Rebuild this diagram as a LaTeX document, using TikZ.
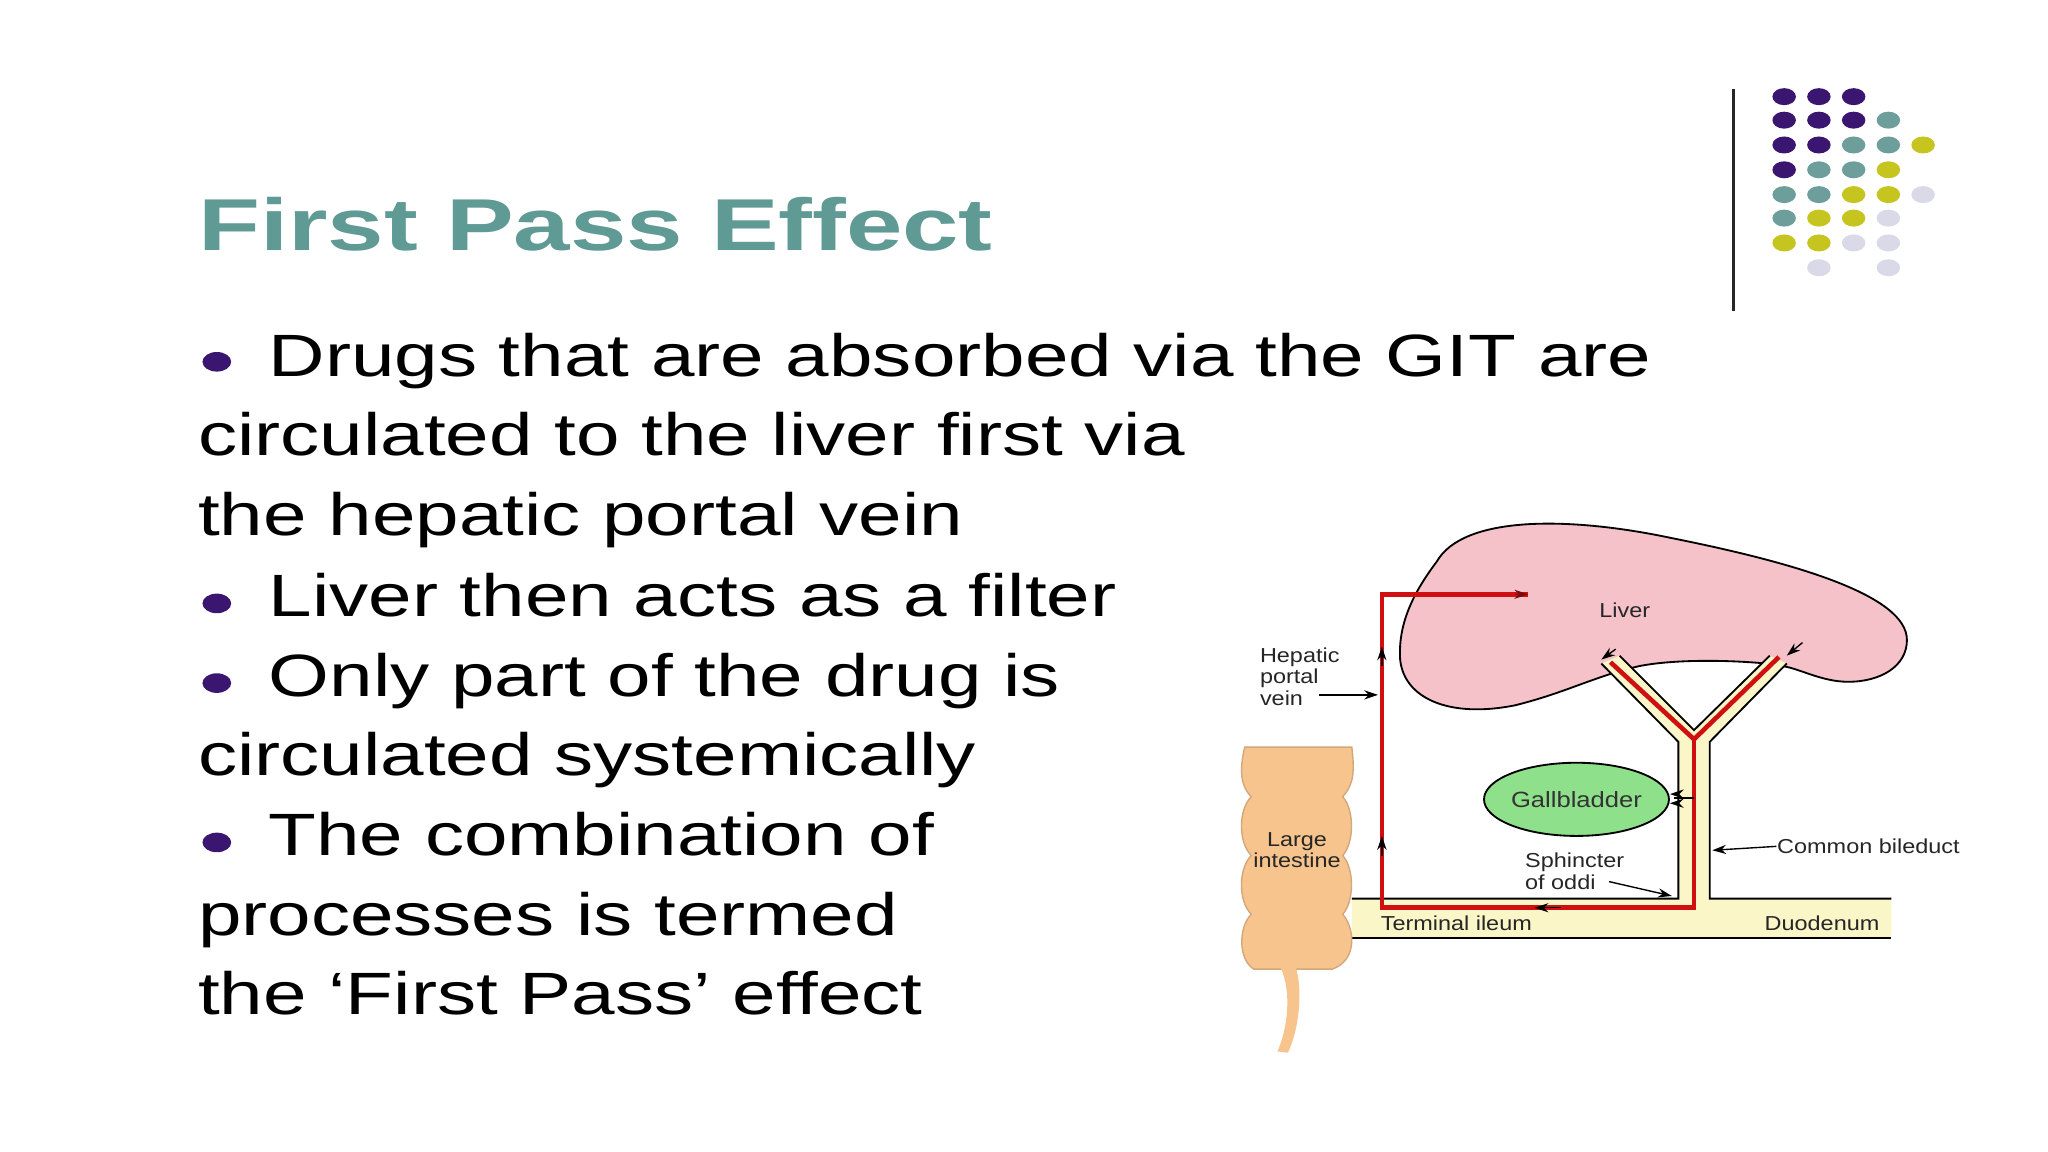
\documentclass[tikz,border=0pt]{standalone}
\usepackage{fontspec}
\setmainfont{Liberation Sans}
\newfontfamily\bodyfont[FakeStretch=1.31]{Liberation Sans}
\newfontfamily\titlefont[FakeStretch=1.38]{Liberation Sans}
\newfontfamily\lblfont[FakeStretch=1.16]{Liberation Sans}
\usetikzlibrary{arrows.meta,shapes.geometric}
\definecolor{pur}{HTML}{3A1670}
\definecolor{teal}{HTML}{6E9E9C}
\definecolor{yel}{HTML}{C6C41E}
\definecolor{lil}{HTML}{D9D9E8}
\definecolor{titc}{HTML}{5F9A94}
\definecolor{liv}{HTML}{F4C2C8}
\definecolor{duct}{HTML}{FAF6C8}
\definecolor{org}{HTML}{F7C48E}
\definecolor{gb}{HTML}{8FE08A}
\definecolor{vein}{HTML}{D01010}
\tikzset{
 body/.style={anchor=base west,font=\bodyfont\fontsize{13}{15}\selectfont,inner sep=0},
 lbl/.style={font=\lblfont\fontsize{4.4}{4.7}\selectfont,inner sep=0,text=black!85},
 ptr/.style={-{Stealth[length=3pt,width=2pt]},line width=0.3pt},
 dotP/.style={fill=pur},dotT/.style={fill=teal},dotY/.style={fill=yel},dotL/.style={fill=lil}
}
\begin{document}
\begin{tikzpicture}[x=0.01cm,y=-0.01cm]
\useasboundingbox[fill=white] (0,0) rectangle (1568,882);
% title
\node[anchor=base west,inner sep=0,text=titc,font=\titlefont\bfseries\fontsize{16}{20}\selectfont] (title) at (151,192) {First Pass Effect};
% decorative line and dots
\draw[line width=0.6pt,black!85] (1327,68) -- (1327,238);
\foreach \row/\y/\list in {1/74/{1/P,2/P,3/P},2/92/{1/P,2/P,3/P,4/T},3/111/{1/P,2/P,3/T,4/T,5/Y},4/130/{1/P,2/T,3/T,4/Y},5/149/{1/T,2/T,3/Y,4/Y,5/L},6/167/{1/T,2/Y,3/Y,4/L},7/186/{1/Y,2/Y,3/L,4/L},8/205/{2/L,4/L}}{
 \foreach \c/\k in \list {
  \fill[dot\k] ({1366+(\c-1)*26.6},\y) ellipse [x radius=9,y radius=6.5];
 }
}
% bullets text
\foreach \y in {273,458,519,641}{\fill[pur] (166,\y+4) ellipse [x radius=11,y radius=7.5];}
\node[body] (t1) at (205,288) {Drugs that are absorbed via the GIT are};
\node[body] (t2) at (151,349) {circulated to the liver first via};
\node[body] (t3) at (151,410) {the hepatic portal vein};
\node[body] (t4) at (205,472) {Liver then acts as a filter};
\node[body] (t5) at (205,533) {Only part of the drug is};
\node[body] (t6) at (151,594) {circulated systemically};
\node[body] (t7) at (205,655) {The combination of};
\node[body] (t8) at (151,716) {processes is termed};
\node[body] (t9) at (151,777) {the ‘First Pass’ effect};
% ---- diagram ----
% liver
\draw[fill=liv,line width=0.4pt] (1100,430) .. controls (1120,395) and (1200,395) .. (1280,412)
 .. controls (1370,430) and (1460,455) .. (1460,490)
 .. controls (1460,510) and (1440,522) .. (1415,522)
 .. controls (1395,522) and (1378,512) .. (1365,510)
 -- (1352,508) .. controls (1320,505) and (1280,505) .. (1255,510)
 .. controls (1220,518) and (1200,530) .. (1160,540)
 .. controls (1110,550) and (1075,535) .. (1072,505)
 .. controls (1070,475) and (1085,450) .. (1100,430) -- cycle;
% duct (Y) + duodenum band
\fill[duct] (1035,688) -- (1285,688) -- (1285,568) -- (1226,508) -- (1240,502) -- (1297,559) -- (1355,502) -- (1368,508) -- (1309,568) -- (1309,688) -- (1448,688) -- (1448,718) -- (1035,718) -- cycle;
\draw[line width=0.4pt] (1035,688) -- (1285,688) -- (1285,568) -- (1226,508);
\draw[line width=0.4pt] (1368,508) -- (1309,568) -- (1309,688) -- (1448,688);
\draw[line width=0.4pt] (1240,502) -- (1297,559) -- (1355,502);
\draw[line width=0.4pt] (1035,718) -- (1448,718);
% large intestine
\draw[fill=org,draw=org!85!black,line width=0.3pt] (953,572) -- (1035,572)
 .. controls (1037,590) and (1037,600) .. (1028,610) .. controls (1037,620) and (1037,645) .. (1028,655)
 .. controls (1037,665) and (1037,690) .. (1028,700) .. controls (1037,710) and (1040,735) .. (1020,742)
 -- (960,742) .. controls (948,735) and (948,710) .. (958,700)
 .. controls (948,690) and (948,665) .. (958,655) .. controls (948,645) and (948,620) .. (958,610)
 .. controls (948,600) and (950,585) .. (953,572) -- cycle;
\fill[org] (980,740) .. controls (990,760) and (985,790) .. (978,805) -- (986,806) .. controls (994,790) and (998,760) .. (992,740) -- cycle;
% gallbladder
\node[draw,fill=gb,ellipse,minimum width=1.2cm,minimum height=0.56cm,inner sep=0,font=\lblfont\fontsize{4.8}{6}\selectfont,text=black!80] (gb) at (1207,612) {Gallbladder};
% vein (red)
\coordinate (vy) at (1297,566);
\coordinate (vb) at (1297,695);
\coordinate (vl) at (1058,695);
\coordinate (vt) at (1058,455);
\coordinate (va) at (1170,455);
\draw[vein,line width=1pt] (1233,507) -- (vy) -- (1362,503);
\draw[vein,line width=1pt,line join=miter] (vy) -- (vb) -- (vl) -- (vt) -- (va);
\draw[ptr,vein!60!black] (1160,455) -- (va);
\draw[ptr] (1058,510) -- (1058,495);
\draw[ptr] (1058,655) -- (1058,640);
\draw[ptr] (1195,695) -- (1175,695);
\draw[ptr] (1237,497) -- (1226,505) ;
\draw[ptr] (1380,492) -- (1368,502);
\draw[line width=0.4pt] (1297,611) -- (1282,611);
\draw[ptr] (1285,608) -- (gb.east|-0,608);
\draw[ptr] (1285,615) -- (gb.east|-0,615);
% labels
\node[lbl] (liver) at (1244,467) {Liver};
\node[lbl,align=left,anchor=west] (hpv) at (964,518) {Hepatic\\portal\\vein};
\draw[ptr] (1010,532) -- (1055,532);
\node[lbl,anchor=west] (cbd) at (1360,648) {Common bileduct};
\draw[ptr] (cbd.west) -- (1311,651);
\node[lbl,align=left,anchor=west] (so) at (1167,667) {Sphincter\\of oddi};
\draw[ptr] (1232,675) -- (1280,686);
\node[lbl] (ti) at (1115,707) {Terminal ileum};
\node[lbl] (du) at (1395,707) {Duodenum};
\node[lbl,align=center] (li) at (993,651) {Large\\intestine};
\end{tikzpicture}
\end{document}
